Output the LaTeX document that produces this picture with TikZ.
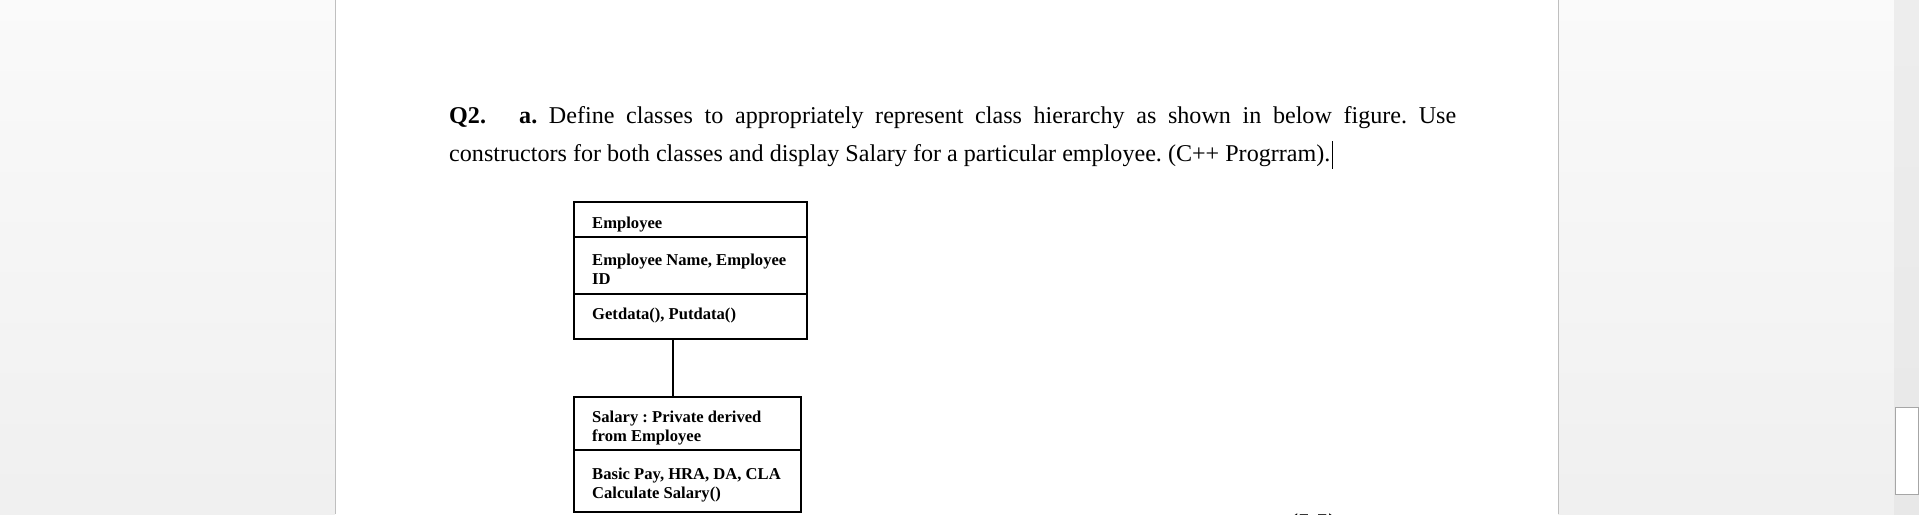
\documentclass[tikz,border=0pt]{standalone}
\usepackage{fontspec}
\setmainfont{Liberation Serif}
\frenchspacing
\begin{document}
\begin{tikzpicture}[x=1pt,y=-1pt,
  comp/.style={draw=black,line width=1.6pt,rectangle,anchor=north west,inner sep=0pt,outer sep=0pt},
  boxtext/.style={anchor=base west,inner sep=0pt,font=\fontsize{16.6}{18.5}\selectfont\bfseries,align=left},
  qtext/.style={anchor=base west,inner sep=0pt,font=\fontsize{24.1}{38}\selectfont},
  link/.style={draw=black,line width=2.2pt}]
\useasboundingbox (0,0) rectangle (1919,514);
% background
\shade[top color=white!98!black,bottom color=white!94!black] (0,0) rectangle (335,514);
\shade[top color=white!98!black,bottom color=white!94!black] (1558,0) rectangle (1894,514);
\fill[white] (335,0) rectangle (1558,514);
\draw[line width=1pt,draw=white!75!black] (335,0) -- (335,514);
\draw[line width=1pt,draw=white!75!black] (1558,0) -- (1558,514);
\shade[top color=white!93!black,bottom color=white!91!black] (1894,0) rectangle (1919,514);
\draw[fill=white,draw=white!65!black,line width=1pt] (1895,407) rectangle (1918,494);
% question text
\node[qtext] (q) at (449,123) {\textbf{Q2.}};
\node[qtext] (l1) at (519,123) {\makebox[937pt][s]{\textbf{a.} Define classes to appropriately represent class hierarchy as shown in below figure. Use}};
\node[qtext] (l2) at (449,161) {constructors for both classes and display Salary for a particular employee. (C++ Progrram).};
\draw[line width=0.8pt] (l2.base east) ++(2,-20) -- ++(0,28);
% Employee class
\node[comp,minimum width=233pt,minimum height=35pt] (e1) at (574,202) {};
\node[comp,minimum width=233pt,minimum height=57pt] (e2) at (574,237) {};
\node[comp,minimum width=233pt,minimum height=45pt] (e3) at (574,294) {};
\node[boxtext] (t1) at (592,228) {Employee};
\node[boxtext] (t2) at (592,284) {Employee Name, Employee\\ID};
\node[boxtext] (t3) at (592,319) {Getdata(), Putdata()};
% Salary class
\node[comp,minimum width=227pt,minimum height=53pt] (s1) at (574,397) {};
\node[comp,minimum width=227pt,minimum height=62pt] (s2) at (574,450) {};
\node[boxtext] (u1) at (592,441) {Salary : Private derived\\from Employee};
\node[boxtext] (u2) at (592,498) {Basic Pay, HRA, DA, CLA\\Calculate Salary()};
% connector
\draw[link] ([xshift=-17.5pt]e3.south) -- ([xshift=-17.5pt]e3.south |- s1.north);
% cut-off marks text
\begin{scope}
\clip (0,0) rectangle (1919,514);
\node[qtext,font=\fontsize{24.1}{38}\selectfont\bfseries] (marks) at (1290,530) {(5.5)};
\end{scope}
\end{tikzpicture}
\end{document}
